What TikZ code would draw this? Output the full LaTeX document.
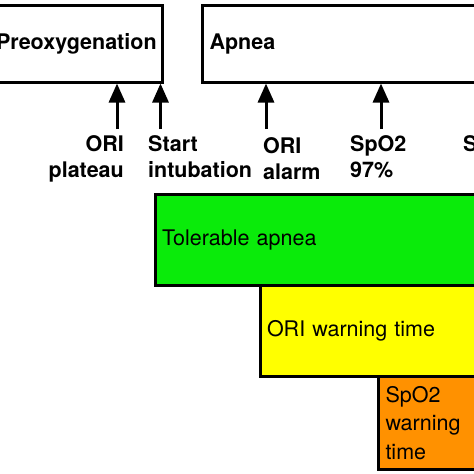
\documentclass[tikz,border=0pt]{standalone}
\usepackage{fontspec}
\setmainfont{TeX Gyre Heros}
\usetikzlibrary{arrows.meta, positioning}

\definecolor{tolgreen}{RGB}{10,235,10}
\definecolor{oriyellow}{RGB}{255,255,0}
\definecolor{spoorange}{RGB}{255,145,0}

\tikzset{
  phasebox/.style={draw=black, line width=3pt, anchor=north west, inner xsep=7pt,
    inner ysep=0pt, align=left, font=\fontsize{21.5}{26}\selectfont\bfseries},
  timebox/.style={draw=black, line width=3pt, anchor=north west, inner xsep=6pt,
    inner ysep=0pt, align=left, font=\fontsize{21.5}{28.5}\selectfont},
  eventlabel/.style={inner sep=0pt, align=left, font=\fontsize{21.5}{26}\selectfont\bfseries},
  eventarrow/.style={line width=3pt, -{Triangle[width=16pt, length=19pt]}}
}

\begin{document}
\begin{tikzpicture}[x=1pt, y=-1pt]
  \useasboundingbox (0,0) rectangle (474,474);
  \clip (0,0) rectangle (474,474);

  % ----- phases -----
  \node[phasebox, inner xsep=0pt, minimum width=181pt, minimum height=76.5pt, text width=181pt] (preox) at (-20.5,4) {\hspace*{15pt}Preoxygenation};
  \node[phasebox, minimum width=300pt, minimum height=76.5pt, text width=286pt] (apnea) at (201,4) {Apnea};

  % ----- events -----
  \coordinate (plateau) at (117,129);
  \coordinate (startint) at (160.5,129);
  \coordinate (orialarm) at (266,129);
  \coordinate (spo97) at (381,129);

  \draw[eventarrow] (plateau) -- (plateau |- preox.south);
  \draw[eventarrow] (startint) -- (startint |- preox.south);
  \draw[eventarrow] (orialarm) -- (orialarm |- apnea.south);
  \draw[eventarrow] (spo97) -- (spo97 |- apnea.south);

  \node[eventlabel, anchor=north east, align=right] (lplateau) at (124,135) {ORI\\plateau};
  \node[eventlabel, anchor=north west] (lstart) at (148,135) {Start\\intubation};
  \node[eventlabel, anchor=north west] (lalarm) at (263,137) {ORI\\alarm};
  \node[eventlabel, anchor=north west] (lspo) at (350,135) {SpO2\\97\%};
  \node[eventlabel, anchor=north west] (lspo90) at (463,135) {SpO2};

  % ----- time windows -----
  \node[timebox, fill=tolgreen, minimum width=340pt, minimum height=91.5pt, text width=326pt] (tolerable) at (153.5,192.5) {Tolerable apnea};
  \node[timebox, fill=oriyellow, minimum width=240pt, minimum height=91pt, text width=226pt] (oriwarn) at (258.5,284) {ORI warning time};
  \node[timebox, fill=spoorange, minimum width=120pt, minimum height=93pt, text width=106pt] (spowarn) at (377,375) {SpO2\\warning\\time};
\end{tikzpicture}
\end{document}
